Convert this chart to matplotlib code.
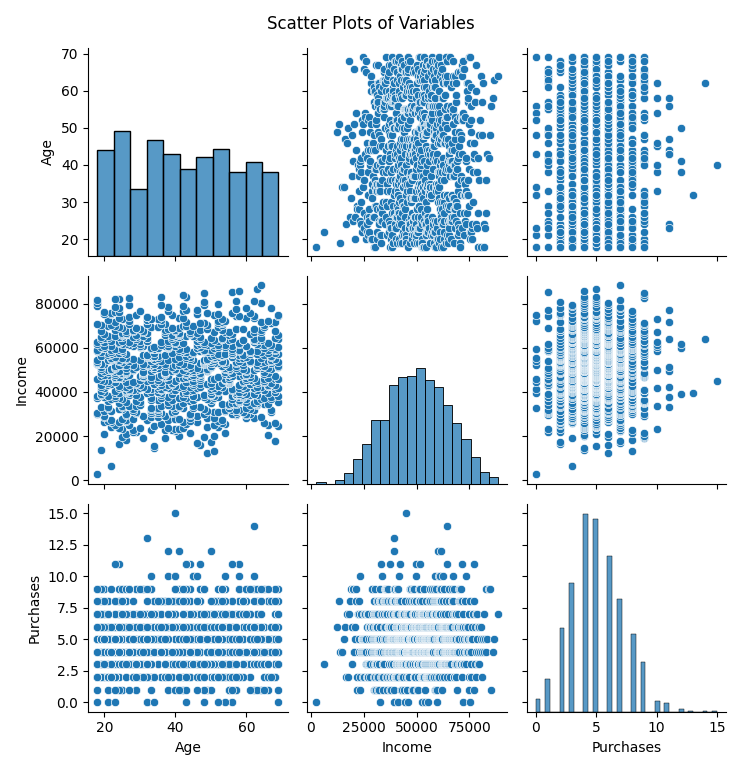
import numpy as np
import pandas as pd
import matplotlib
matplotlib.use("Agg")
import matplotlib.pyplot as plt
import seaborn as sns

# (approximate counts)
age_bin_edges = [18, 23, 27, 32, 36, 41, 45, 50, 55, 59, 64, 70]
age_counts = [99, 101, 79, 89, 93, 83, 91, 100, 80, 90, 95]
income_bin_start = 800
income_bin_width = 3600
income_counts = [1, 1, 0, 4, 7, 14, 26, 35, 57, 49, 75, 84, 85, 84, 93, 79, 78, 66, 55, 39, 32, 18, 11, 5, 2]
purchase_values = list(range(16))
purchase_counts = [12, 31, 78, 120, 185, 180, 145, 105, 73, 46, 10, 8, 3, 1, 1, 1]

ages = []
for lo, hi, c in zip(age_bin_edges[:-1], age_bin_edges[1:], age_counts):
    vals = np.arange(lo, hi)
    ages += [vals[(i * 7) % len(vals)] for i in range(c)]
incomes = []
for i, c in enumerate(income_counts):
    lo = income_bin_start + i * income_bin_width
    incomes += list(np.linspace(lo, lo + income_bin_width, c + 2)[1:-1])
purch = []
for v, c in zip(purchase_values, purchase_counts):
    purch += [v] * c

n = min(len(ages), len(incomes), len(purch))
ages = np.array(ages[:n]); incomes = np.array(incomes[:n]); purch = np.array(purch[:n])
perm1 = (np.arange(n) * 389 + (np.arange(n) ** 2) * 7) % n
perm2 = (np.arange(n) * 613 + (np.arange(n) ** 2) * 13) % n
perm1 = np.argsort(perm1 + 0.5 * np.arange(n) / n)
perm2 = np.argsort(perm2 + 0.5 * np.arange(n) / n)
df = pd.DataFrame({"Age": ages[perm1], "Income": incomes, "Purchases": purch[perm2]})

g = sns.pairplot(df, height=2.4, diag_kws={"bins": {"Age": 10}.get("x", "auto")})
g.fig.set_size_inches(7.41, 7.7)
g.fig.suptitle("Scatter Plots of Variables", fontsize=12)
g.fig.tight_layout()
g.fig.savefig("out.png", dpi=100)
